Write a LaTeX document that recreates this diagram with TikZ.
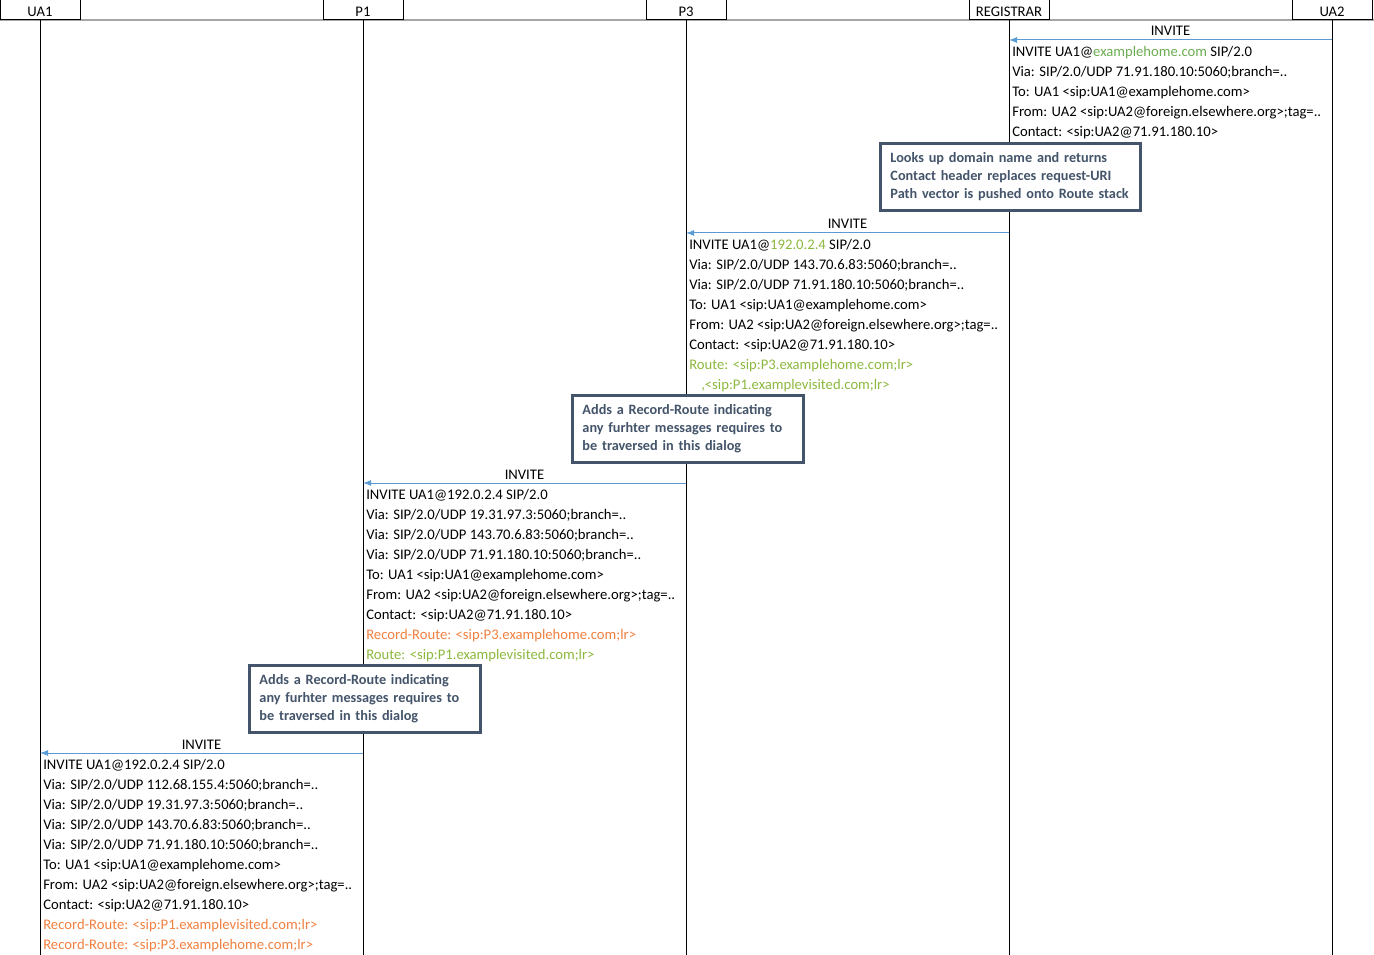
\documentclass[tikz,border=0pt]{standalone}
\usepackage{fontspec}
\setmainfont{Carlito}
\usetikzlibrary{positioning,arrows.meta}
\definecolor{msgblue}{HTML}{5B9BD5}
\definecolor{noteslate}{HTML}{44546A}
\definecolor{hostgreen}{HTML}{6AAD50}
\definecolor{routegreen}{HTML}{8DB83F}
\definecolor{rrorange}{HTML}{F08040}
\def \px {0.75pt}

\begin{document}
\begin{tikzpicture}[x=\px,y=-\px,font=\fontsize{11}{15}\selectfont,
    actor/.style={draw,anchor=south,minimum width=60pt,minimum height=15pt,inner sep=0pt,
      text height=10pt,text depth=0pt},
    life/.style={line width=\px},
    msg/.style={draw=msgblue,line width=\px,-{Latex[length=6pt,width=4.5pt]}},
    lbl/.style={midway,anchor=base,yshift=3pt,inner sep=0pt},
    msgline/.style={anchor=base west,inner sep=0pt},
    note/.style={draw=noteslate,line width=2.2pt,fill=white,text=noteslate,
      font=\fontsize{10.7}{13.5}\selectfont\bfseries,align=left,anchor=north west,
      inner xsep=7.5pt,minimum height=50pt}]
  \useasboundingbox (0,0) rectangle (1374,955);
  \draw[gray!70,line width=1.2pt] (0,20) -- (1374,20);

  \node[actor] (UA1) at (40,20) {UA1};
  \node[actor] (P1) at (363,20) {P1};
  \node[actor] (P3) at (686,20) {P3};
  \node[actor] (REG) at (1009,20) {REGISTRAR};
  \node[actor] (UA2) at (1332,20) {UA2};
  \foreach \a/\x in {UA1/40,P1/363,P3/686,REG/1009,UA2/1332} {
    \coordinate (\a end) at (\x,955);
    \draw[life] (\a.south) -- (\a end);
  }

  \coordinate (m1s) at (1332,40);
  \coordinate (m1e) at (1009,40);
  \draw[msg] (m1s) -- node[lbl] {INVITE} (m1e);
  \foreach \t [count=\i from 0] in {
      {INVITE UA1@\textcolor{hostgreen}{examplehome.com} SIP/2.0},
      {Via: SIP/2.0/UDP 71.91.180.10:5060;branch=..},
      {To: UA1 <sip:UA1@examplehome.com>},
      {From: UA2 <sip:UA2@foreign.elsewhere.org>;tag=..},
      {Contact: <sip:UA2@71.91.180.10>}}
    \node[msgline] (m1-\i) at (1012,{56.5+20*\i}) {\t};

  \node[note,text width=180pt] (lookup) at (879,142) {Looks up domain name and returns\\
    Contact header replaces request-URI\\Path vector is pushed onto Route stack};

  \coordinate (m2s) at (1009,233);
  \coordinate (m2e) at (686,233);
  \draw[msg] (m2s) -- node[lbl] {INVITE} (m2e);
  \foreach \t [count=\i from 0] in {
      {INVITE UA1@\textcolor{routegreen}{192.0.2.4} SIP/2.0},
      {Via: SIP/2.0/UDP 143.70.6.83:5060;branch=..},
      {Via: SIP/2.0/UDP 71.91.180.10:5060;branch=..},
      {To: UA1 <sip:UA1@examplehome.com>},
      {From: UA2 <sip:UA2@foreign.elsewhere.org>;tag=..},
      {Contact: <sip:UA2@71.91.180.10>},
      {\textcolor{routegreen}{Route: <sip:P3.examplehome.com;lr>}},
      {\hspace*{9pt}\textcolor{routegreen}{,<sip:P1.examplevisited.com;lr>}}}
    \node[msgline] (m2-\i) at (689,{249.5+20*\i}) {\t};

  \node[note,text width=158pt] (rrP3) at (571,394) {Adds a Record-Route indicating\\
    any furhter messages requires to\\be traversed in this dialog};

  \coordinate (m3s) at (686,483);
  \coordinate (m3e) at (363,483);
  \draw[msg] (m3s) -- node[lbl] {INVITE} (m3e);
  \foreach \t [count=\i from 0] in {
      {INVITE UA1@192.0.2.4 SIP/2.0},
      {Via: SIP/2.0/UDP 19.31.97.3:5060;branch=..},
      {Via: SIP/2.0/UDP 143.70.6.83:5060;branch=..},
      {Via: SIP/2.0/UDP 71.91.180.10:5060;branch=..},
      {To: UA1 <sip:UA1@examplehome.com>},
      {From: UA2 <sip:UA2@foreign.elsewhere.org>;tag=..},
      {Contact: <sip:UA2@71.91.180.10>},
      {\textcolor{rrorange}{Record-Route: <sip:P3.examplehome.com;lr>}},
      {\textcolor{routegreen}{Route: <sip:P1.examplevisited.com;lr>}}}
    \node[msgline] (m3-\i) at (366,{499.5+20*\i}) {\t};

  \node[note,text width=158pt] (rrP1) at (248,664) {Adds a Record-Route indicating\\
    any furhter messages requires to\\be traversed in this dialog};

  \coordinate (m4s) at (363,753);
  \coordinate (m4e) at (40,753);
  \draw[msg] (m4s) -- node[lbl] {INVITE} (m4e);
  \foreach \t [count=\i from 0] in {
      {INVITE UA1@192.0.2.4 SIP/2.0},
      {Via: SIP/2.0/UDP 112.68.155.4:5060;branch=..},
      {Via: SIP/2.0/UDP 19.31.97.3:5060;branch=..},
      {Via: SIP/2.0/UDP 143.70.6.83:5060;branch=..},
      {Via: SIP/2.0/UDP 71.91.180.10:5060;branch=..},
      {To: UA1 <sip:UA1@examplehome.com>},
      {From: UA2 <sip:UA2@foreign.elsewhere.org>;tag=..},
      {Contact: <sip:UA2@71.91.180.10>},
      {\textcolor{rrorange}{Record-Route: <sip:P1.examplevisited.com;lr>}},
      {\textcolor{rrorange}{Record-Route: <sip:P3.examplehome.com;lr>}}}
    \node[msgline] (m4-\i) at (43,{769.5+20*\i}) {\t};
\end{tikzpicture}
\end{document}
